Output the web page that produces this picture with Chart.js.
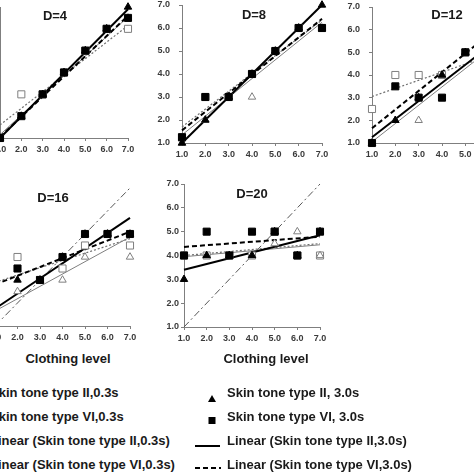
<!DOCTYPE html>
<html>
<head>
<meta charset="utf-8">
<script src="https://cdn.jsdelivr.net/npm/chart.js@4.4.1/dist/chart.umd.min.js"></script>
<style>
  html, body { margin: 0; padding: 0; background: #fff; }
  #wrap { position: relative; width: 474px; height: 474px; overflow: hidden; font-family: "Liberation Sans", Arial, sans-serif; }
  canvas { position: absolute; }
  .txt { position: absolute; white-space: nowrap; font-weight: bold; color: #1a1a1a; }
  .ttl { font-size: 13px; transform: translate(-50%, -50%); }
  .leg { font-size: 13px; line-height: 16px; }
  svg { position: absolute; overflow: visible; }
</style>
</head>
<body>
<div id="wrap"></div>
<script>
  // clothing levels and axis ticks
  const levels = [1, 2, 3, 4, 5, 6, 7];
  const tickLabels = ["1.0", "2.0", "3.0", "4.0", "5.0", "6.0", "7.0"];
  const fitX = [1, 7];
  const diag = [1, 7];

  // tri03 = skin II 0.3s, sq03 = skin VI 0.3s, tri30 = skin II 3.0s, sq30 = skin VI 3.0s
  // fit arrays = trend line value at clothing level 1 and 7
  const d4Tri03 = [1, 2, 3, 4, 5, 6, 6.5];
  const d4Sq03 = [1, 3, 3, 4, 5, 6, 6];
  const d4Tri30 = [1, 2, 3, 4, 5, 6, 7];
  const d4Sq30 = [1, 2, 3, 4, 5, 6, 6.5];
  const d4FitTri03 = [1.15, 6.55];
  const d4FitSq03 = [1.6, 6.15];
  const d4FitTri30 = [1.0, 6.9];
  const d4FitSq30 = [1.05, 6.6];

  const d8Tri03 = [1, 2, 3, 3, 5, 6, 6];
  const d8Sq03 = [1.25, 3, 3, 4, 5, 6, 6];
  const d8Tri30 = [1, 2, 3, 4, 5, 6, 7];
  const d8Sq30 = [1.25, 3, 3, 4, 5, 6, 6];
  const d8FitTri03 = [1.35, 6.25];
  const d8FitSq03 = [1.7, 6.35];
  const d8FitTri30 = [1.0, 7.0];
  const d8FitSq30 = [1.55, 6.4];

  const d12Tri03 = [1, 2, 2, 4, 5, 6, 7];
  const d12Sq03 = [2.5, 4, 4, 4, 5, 5, 5];
  const d12Tri30 = [1, 2, 3, 4, 5, 6, 7];
  const d12Sq30 = [1, 3.5, 3, 3, 5, 6, 6];
  const d12FitTri03 = [1.05, 5.9];
  const d12FitSq03 = [3.05, 5.2];
  const d12FitTri30 = [1.25, 6.05];
  const d12FitSq30 = [1.65, 6.6];

  const d16Tri03 = [1.5, 2.5, 3, 3, 4, 5, 4];
  const d16Sq03 = [2, 4, 3, 3.5, 4.5, 5, 4.5];
  const d16Tri30 = [2, 3, 3, 4, 5, 5, 5];
  const d16Sq30 = [3, 3.5, 3, 4, 5, 5, 5];
  const d16FitTri03 = [1.65, 4.87];
  const d16FitSq03 = [2.9, 4.8];
  const d16FitTri30 = [1.75, 5.7];
  const d16FitSq30 = [2.8, 5.1];

  const d20Tri03 = [4, 4, 4, 4, 4.5, 5, 4];
  const d20Sq03 = [4, 4, 4, 4, 5, 4, 4];
  const d20Tri30 = [3, 4, 4, 4, 5, 4, 5];
  const d20Sq30 = [4, 5, 4, 5, 5, 4, 5];
  const d20FitTri03 = [3.95, 4.45];
  const d20FitSq03 = [4.0, 4.5];
  const d20FitTri30 = [3.4, 4.85];
  const d20FitSq30 = [4.36, 4.79];

  const legendLeft = ["Skin tone type II,0.3s", "Skin tone type VI,0.3s",
    "Linear (Skin tone type II,0.3s)", "Linear (Skin tone type VI,0.3s)"];
  const legendRight = ["Skin tone type II, 3.0s", "Skin tone type VI, 3.0s",
    "Linear (Skin tone type II,3.0s)", "Linear (Skin tone type VI,3.0s)"];

  const wrap = document.getElementById("wrap");
  const GRAY = "#7f7f7f";
  const tickFont = { family: "'Liberation Sans', Arial, sans-serif", size: 9, weight: "bold" };

  function pts(ys, xs) {
    xs = xs || levels;
    return xs.map(function (x, i) { return { x: x, y: ys[i] }; });
  }

  function marker(ys, style, filled, r) {
    return {
      data: pts(ys),
      pointStyle: style,
      pointRadius: r,
      pointBackgroundColor: filled ? "#000" : "#fff",
      pointBorderColor: filled ? "#000" : GRAY,
      pointBorderWidth: 1,
      showLine: false,
      clip: false
    };
  }

  function fit(ys, color, width, dash) {
    return {
      data: pts(ys, fitX),
      showLine: true,
      pointRadius: 0,
      borderColor: color,
      borderWidth: width,
      borderDash: dash,
      clip: false
    };
  }

  function addText(cls, text, x, y) {
    const d = document.createElement("div");
    d.className = "txt " + cls;
    d.textContent = text;
    d.style.left = x + "px";
    d.style.top = y + "px";
    wrap.appendChild(d);
    return d;
  }

  // p: plot area in page pixels {L, T, R, B}
  function panel(p) {
    const yW = 44, xH = 24, padTop = 10, padRight = 14;
    const cv = document.createElement("canvas");
    cv.width = p.R - p.L + yW + padRight;
    cv.height = p.B - p.T + padTop + xH;
    cv.style.left = (p.L - yW) + "px";
    cv.style.top = (p.T - padTop) + "px";
    wrap.appendChild(cv);

    const datasets = [
      marker(p.sq30, "rect", true, 5),
      marker(p.tri30, "triangle", true, 4.3),
      marker(p.tri03, "triangle", false, 4.3),
      marker(p.sq03, "rect", false, 5),
      fit(p.fitTri30, "#000", 2, []),
      fit(p.fitSq30, "#000", 2, [5, 3]),
      fit(p.fitTri03, GRAY, 1, []),
      fit(p.fitSq03, "#6f6f6f", 1.2, [2, 2])
    ];
    if (p.diag) datasets.push(fit(diag, "#555", 1, [7, 3, 2, 3]));

    const axisBase = {
      type: "linear",
      min: 1,
      max: 7,
      afterBuildTicks: function (s) { s.ticks = levels.map(function (v) { return { value: v }; }); },
      grid: { display: true, drawOnChartArea: false, drawTicks: true, tickLength: 3, color: GRAY, lineWidth: 1 },
      border: { display: true, color: GRAY, width: 1 }
    };

    new Chart(cv, {
      type: "scatter",
      data: { datasets: datasets },
      options: {
        responsive: false,
        animation: false,
        events: [],
        layout: { padding: { left: 0, top: padTop, right: padRight, bottom: 0 } },
        plugins: { legend: { display: false }, tooltip: { enabled: false } },
        scales: {
          x: Object.assign({}, axisBase, {
            ticks: {
              autoSkip: false, maxRotation: 0, padding: 3, color: "#3a3a3a", font: tickFont,
              callback: function (v) { return tickLabels[levels.indexOf(v)]; }
            },
            afterFit: function (s) { s.height = xH; s.paddingLeft = 0; s.paddingRight = 0; }
          }),
          y: Object.assign({}, axisBase, {
            ticks: {
              autoSkip: false, padding: p.yPad, color: "#3a3a3a", font: tickFont,
              callback: function (v) { return tickLabels[levels.indexOf(v)]; }
            },
            afterFit: function (s) { s.width = yW; s.paddingTop = 0; s.paddingBottom = 0; }
          })
        }
      }
    });

    addText("ttl", p.title, p.tx, p.ty);
  }

  panel({ title: "D=4", tx: 55, ty: 15, L: 0, T: 7, R: 128, B: 138, yPad: 9,
    tri03: d4Tri03, sq03: d4Sq03, tri30: d4Tri30, sq30: d4Sq30,
    fitTri03: d4FitTri03, fitSq03: d4FitSq03, fitTri30: d4FitTri30, fitSq30: d4FitSq30 });

  panel({ title: "D=8", tx: 254, ty: 14, L: 182, T: 5, R: 322, B: 143, yPad: 9,
    tri03: d8Tri03, sq03: d8Sq03, tri30: d8Tri30, sq30: d8Sq30,
    fitTri03: d8FitTri03, fitSq03: d8FitSq03, fitTri30: d8FitTri30, fitSq30: d8FitSq30 });

  panel({ title: "D=12", tx: 447, ty: 14, L: 372, T: 7, R: 512, B: 143, yPad: 9,
    tri03: d12Tri03, sq03: d12Sq03, tri30: d12Tri30, sq30: d12Sq30,
    fitTri03: d12FitTri03, fitSq03: d12FitSq03, fitTri30: d12FitTri30, fitSq30: d12FitSq30 });

  panel({ title: "D=16", tx: 53, ty: 197, L: -5, T: 188, R: 130, B: 326, yPad: 2, diag: true,
    tri03: d16Tri03, sq03: d16Sq03, tri30: d16Tri30, sq30: d16Sq30,
    fitTri03: d16FitTri03, fitSq03: d16FitSq03, fitTri30: d16FitTri30, fitSq30: d16FitSq30 });

  panel({ title: "D=20", tx: 252, ty: 193, L: 184, T: 184, R: 320, B: 327, yPad: 2, diag: true,
    tri03: d20Tri03, sq03: d20Sq03, tri30: d20Tri30, sq30: d20Sq30,
    fitTri03: d20FitTri03, fitSq03: d20FitSq03, fitTri30: d20FitTri30, fitSq30: d20FitSq30 });

  addText("ttl", "Clothing level", 68, 358);
  addText("ttl", "Clothing level", 266, 358);

  // legend
  const rowY = [393, 417, 441, 465];
  legendLeft.forEach(function (t, i) { addText("leg", t, -10, rowY[i] - 8); });
  legendRight.forEach(function (t, i) { addText("leg", t, 227, rowY[i] - 8); });

  const ns = "http://www.w3.org/2000/svg";
  const svg = document.createElementNS(ns, "svg");
  svg.setAttribute("width", "474");
  svg.setAttribute("height", "474");
  svg.style.left = "0px";
  svg.style.top = "0px";
  svg.innerHTML =
    '<polygon points="208,402 216,402 212,395" fill="#000"/>' +
    '<rect x="208.5" y="417" width="7" height="7" fill="#000"/>' +
    '<line x1="195" y1="446" x2="220" y2="446" stroke="#000" stroke-width="2"/>' +
    '<line x1="195" y1="468" x2="221" y2="468" stroke="#000" stroke-width="2" stroke-dasharray="5,3"/>';
  wrap.appendChild(svg);
</script>
</body>
</html>
